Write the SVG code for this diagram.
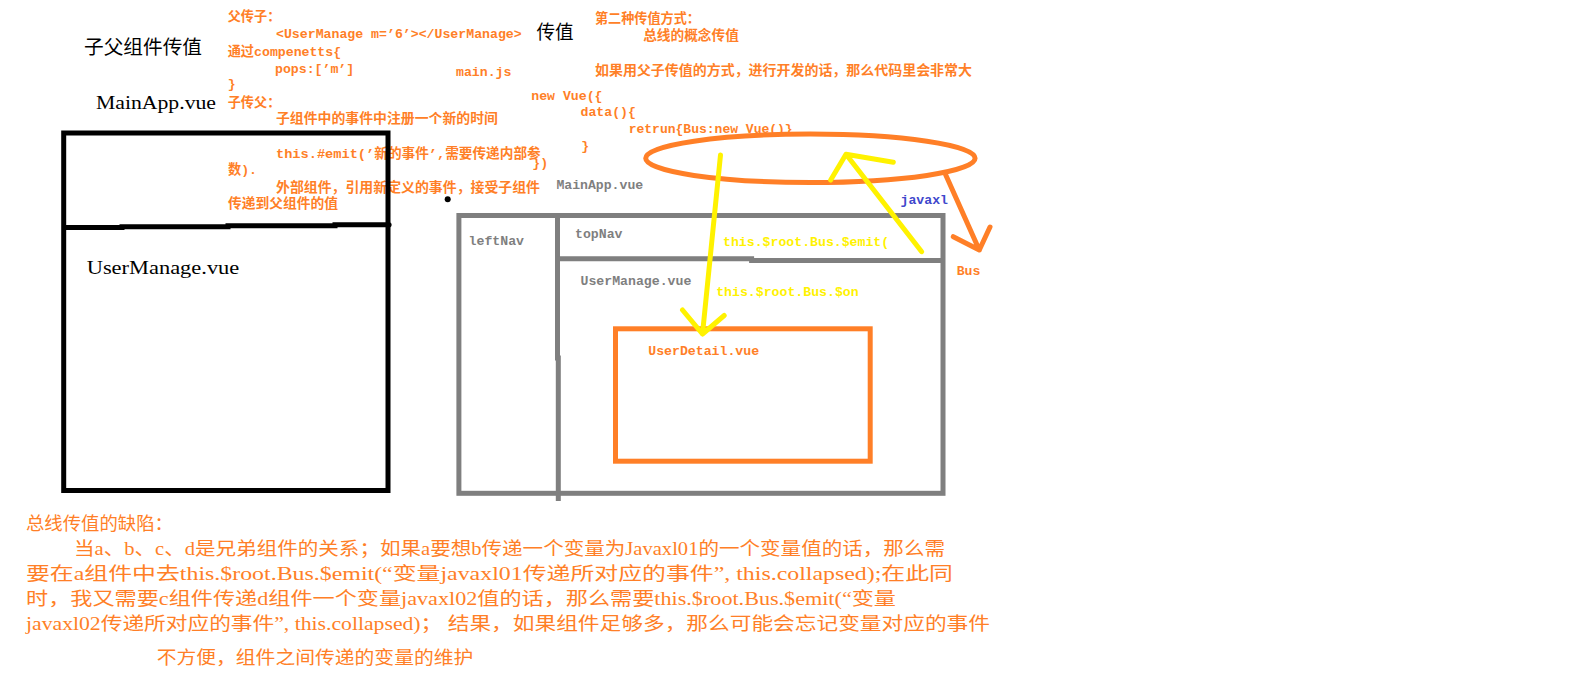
<svg xmlns="http://www.w3.org/2000/svg" width="1594" height="680" viewBox="0 0 1594 680">
<style>
.bg{fill:#ffffff}
.blk{fill:none;stroke:#000000;stroke-width:5}
.gry{fill:none;stroke:#7f7f7f;stroke-width:5}
.org{fill:none;stroke:#ff7f27;stroke-width:5}
.yel{fill:none;stroke:#fff200;stroke-width:5;stroke-linecap:round;stroke-linejoin:round}
.oarr{fill:none;stroke:#ff7f27;stroke-width:5;stroke-linecap:round;stroke-linejoin:round}
.t-title{font-family:"Noto Sans CJK SC","Liberation Sans",sans-serif;font-size:19.5px;fill:#000000}
.t-blk{font-family:"Liberation Serif","Noto Sans CJK SC",serif;font-size:19px;fill:#000000}
.t-code{font-family:"Liberation Mono","Noto Sans CJK SC",monospace;font-size:13.2px;font-weight:bold;fill:#ff7f27}
.t-lbl{font-family:"Liberation Mono","Noto Sans CJK SC",monospace;font-size:13.2px;font-weight:bold}
.g{fill:#7f7f7f}
.y{fill:#fff200}
.o{fill:#ff7f27}
.b{fill:#3f48cc}
.t-note{font-family:"Liberation Serif","Noto Sans CJK SC",serif;font-size:18.5px;fill:#ff7f27}
</style>
<rect class="bg" x="0" y="0" width="1594" height="680"/>

<g id="annotations-left">
<text class="t-title" x="84" y="53.5" textLength="118" lengthAdjust="spacingAndGlyphs">子父组件传值</text>
<text class="t-code" x="227.7" y="21">父传子：</text>
<text class="t-code" x="276" y="38" textLength="245.7" lengthAdjust="spacingAndGlyphs">&lt;UserManage m=’6’&gt;&lt;/UserManage&gt;</text>
<text class="t-code" x="227.7" y="55.5">通过compenetts{</text>
<text class="t-code" x="275" y="72.5">pops:[’m’]</text>
<text class="t-code" x="227.7" y="87.5">}</text>
<text class="t-code" x="227.7" y="106.5">子传父：</text>
<text class="t-code" x="276" y="123" textLength="222" lengthAdjust="spacingAndGlyphs">子组件中的事件中注册一个新的时间</text>
<text class="t-code" x="276" y="157.5" textLength="264.7" lengthAdjust="spacingAndGlyphs">this.#emit(’新的事件’,需要传递内部参</text>
<text class="t-code" x="228" y="174">数).</text>
<text class="t-code" x="276" y="191.5" textLength="264" lengthAdjust="spacingAndGlyphs">外部组件，引用新定义的事件，接受子组件</text>
<text class="t-code" x="228" y="207.5" textLength="110" lengthAdjust="spacingAndGlyphs">传递到父组件的值</text>
</g>

<g id="node-mainapp-left">
<text class="t-blk" x="96" y="109" textLength="120" lengthAdjust="spacingAndGlyphs">MainApp.vue</text>
<rect class="blk" x="63.7" y="133" width="324.3" height="357.5"/>
<polyline class="blk" points="66,227.5 122,227.5 122,226.8 228,226.8 228,225.8 335,225.8 335,224.8 389,224.8"/>
<circle cx="389" cy="224.8" r="2.6" fill="#000"/>
</g>
<g id="node-usermanage-left">
<text class="t-blk" x="86.7" y="274" textLength="152.6" lengthAdjust="spacingAndGlyphs">UserManage.vue</text>
</g>

<g id="annotations-mid">
<text class="t-title" x="536.4" y="38.5" textLength="37.2" lengthAdjust="spacingAndGlyphs">传值</text>
<text class="t-code" x="456" y="75.5">main.js</text>
<text class="t-code" x="531.3" y="99.5">new Vue({</text>
<text class="t-code" x="580.5" y="116">data(){</text>
<text class="t-code" x="628.7" y="133" textLength="164" lengthAdjust="spacingAndGlyphs">retrun{Bus:new Vue()}</text>
<text class="t-code" x="581.2" y="149.5">}</text>
<text class="t-code" x="532.3" y="166.5">})</text>
<text class="t-code" x="595" y="23" textLength="105" lengthAdjust="spacingAndGlyphs">第二种传值方式：</text>
<text class="t-code" x="643.2" y="40" textLength="95.7" lengthAdjust="spacingAndGlyphs">总线的概念传值</text>
<text class="t-code" x="595" y="75" textLength="377" lengthAdjust="spacingAndGlyphs">如果用父子传值的方式，进行开发的话，那么代码里会非常大</text>
<circle cx="447.7" cy="199.3" r="3" fill="#000"/>
</g>

<g id="node-mainapp">
<text class="t-lbl g" x="556.4" y="188.5" textLength="86.8" lengthAdjust="spacingAndGlyphs">MainApp.vue</text>
<rect class="gry" x="458.9" y="215.5" width="484.1" height="277.8"/>
</g>
<g id="node-leftnav">
<text class="t-lbl g" x="468.6" y="244.5">leftNav</text>
<polyline class="gry" points="557.5,213 557.5,358 558.3,358 558.3,501"/>
</g>
<g id="node-topnav">
<text class="t-lbl g" x="575" y="238">topNav</text>
<polyline class="gry" points="557,258.8 751.6,258.8 751.6,260.5 943,260.5"/>
</g>
<g id="node-usermanage">
<text class="t-lbl g" x="580.5" y="284.5">UserManage.vue</text>
</g>
<g id="node-userdetail">
<rect class="org" x="615.5" y="328.8" width="254.7" height="132.4"/>
<text class="t-lbl o" x="648.3" y="354.5">UserDetail.vue</text>
</g>
<g id="node-bus">
<ellipse class="org" cx="810.4" cy="158.3" rx="164.7" ry="24.2"/>
<text class="t-lbl o" x="956.7" y="275">Bus</text>
</g>

<g id="connectors">
<path class="yel" d="M720.5,155 L702.5,334 M682.5,310 L702.5,334 L724.2,315.5"/>
<path class="yel" d="M921.7,251.7 L846,154.3 M830.7,180 L846,154.3 L893.3,162.3"/>
<path class="oarr" d="M945,173.3 L979.3,250 M953.3,236.7 L979.3,250 L990,227"/>
<text class="t-lbl y" x="723" y="246">this.$root.Bus.$emit(</text>
<text class="t-lbl y" x="716.2" y="296">this.$root.Bus.$on</text>
<text class="t-lbl b" x="900.5" y="203.5">javaxl</text>
</g>

<g id="annotations-bottom">
<text class="t-note" x="26" y="529.5" textLength="147" lengthAdjust="spacingAndGlyphs">总线传值的缺陷：</text>
<text class="t-note" x="74" y="554.5" textLength="871" lengthAdjust="spacingAndGlyphs">当a、b、c、d是兄弟组件的关系；如果a要想b传递一个变量为Javaxl01的一个变量值的话，那么需</text>
<text class="t-note" x="26" y="579.5" textLength="927" lengthAdjust="spacingAndGlyphs">要在a组件中去this.$root.Bus.$emit(“变量javaxl01传递所对应的事件”, this.collapsed);在此同</text>
<text class="t-note" x="26" y="604.5" textLength="870" lengthAdjust="spacingAndGlyphs">时，我又需要c组件传递d组件一个变量javaxl02值的话，那么需要this.$root.Bus.$emit(“变量</text>
<text class="t-note" x="26" y="629.5" textLength="964" lengthAdjust="spacingAndGlyphs">javaxl02传递所对应的事件”, this.collapsed)； 结果，如果组件足够多，那么可能会忘记变量对应的事件</text>
<text class="t-note" x="156.7" y="663.5" textLength="316.6" lengthAdjust="spacingAndGlyphs">不方便，组件之间传递的变量的维护</text>
</g>
</svg>
